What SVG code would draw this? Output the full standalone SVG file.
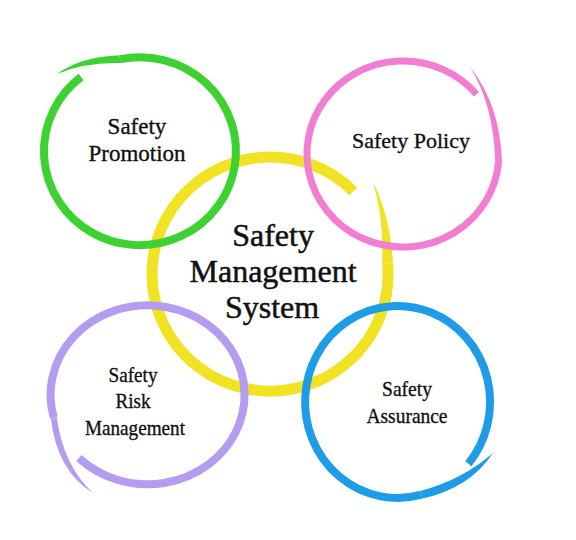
<svg xmlns="http://www.w3.org/2000/svg" width="576" height="540" viewBox="0 0 576 540">
<style>
.ring{fill:none;stroke-linecap:butt}
.lbl{font-family:"Liberation Serif","Times New Roman",serif;fill:#111;text-anchor:middle;stroke:#111;stroke-width:0.35}
.s{font-size:22px}
.m{font-size:23px}
.c{font-size:32px;stroke-width:0.5}
</style>
<rect width="576" height="540" fill="#ffffff"/>
<g id="node-sms">
<path class="ring" stroke="#f1e324" stroke-width="11" d="M387.6 263.8 A118 117 0 1 1 353.4 191.3"/>
<path fill="#f1e324" d="M393 263.3 Q390 215 373 182 Q384 218 382.1 264.3 Z"/>
<text class="lbl c" x="273" y="246">Safety</text>
<text class="lbl c" x="273" y="282">Management</text>
<text class="lbl c" x="272" y="318">System</text>
</g>
<g id="node-promotion">
<path class="ring" stroke="#3dd232" stroke-width="8" d="M120.2 59.2 A96 94 0 1 1 81 77"/>
<path fill="#3dd232" d="M57 74 Q80 57 119.1 55.3 L121.2 63.1 Q85 62 57 74 Z"/>
<text class="lbl m" x="137" y="134">Safety</text>
<text class="lbl m" x="137" y="161">Promotion</text>
</g>
<g id="node-policy">
<path class="ring" stroke="#f27ed4" stroke-width="7" d="M498.6 162.1 A96 93 0 1 1 476.5 94.2"/>
<path fill="#f27ed4" d="M502.1 162.4 Q500 104 470 67 Q494 106 495.1 161.8 Z"/>
<text class="lbl s" x="411" y="148">Safety Policy</text>
</g>
<g id="node-risk">
<path class="ring" stroke="#b49cf0" stroke-width="8" d="M78.9 458 A97 89.5 0 1 0 53.8 417.7"/>
<path fill="#b49cf0" d="M50.9 418.4 Q57 471 93 493 Q63 465 56.7 416.9 Z"/>
<text class="lbl s" x="133" y="382" textLength="49" lengthAdjust="spacingAndGlyphs">Safety</text>
<text class="lbl s" x="133" y="408" textLength="35" lengthAdjust="spacingAndGlyphs">Risk</text>
<text class="lbl s" x="135" y="435" textLength="100" lengthAdjust="spacingAndGlyphs">Management</text>
</g>
<g id="node-assurance">
<path class="ring" stroke="#1f9ce8" stroke-width="8" d="M421.4 494.7 A92.5 96 0 1 1 468.4 463.7"/>
<path fill="#1f9ce8" d="M422.5 498.6 Q470 488 493 453 Q462 480 420.4 490.9 Z"/>
<text class="lbl s" x="407" y="396" textLength="50" lengthAdjust="spacingAndGlyphs">Safety</text>
<text class="lbl s" x="407" y="423" textLength="81" lengthAdjust="spacingAndGlyphs">Assurance</text>
</g>
</svg>
